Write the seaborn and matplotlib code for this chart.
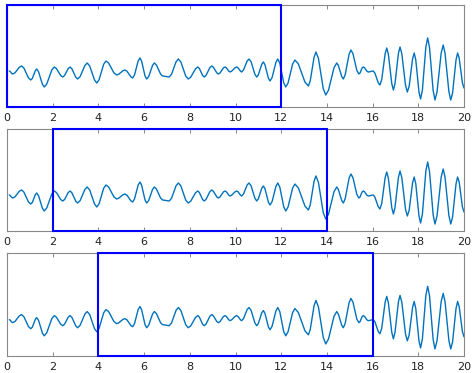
import numpy as np
import pandas as pd
import matplotlib
matplotlib.use("Agg")
import matplotlib.pyplot as plt
import seaborn as sns
from matplotlib.patches import Rectangle

# signal samples (peaks, troughs and shoulders)
t = [0.10, 0.14, 0.21, 0.25, 0.35, 0.54, 0.64, 0.74, 0.94, 1.04, 1.11, 1.24, 1.30, 1.38, 1.55,
     1.63, 1.74, 1.96, 2.07, 2.16, 2.35, 2.44, 2.52, 2.68, 2.76, 2.84, 3.01, 3.09, 3.20, 3.41,
     3.51, 3.62, 3.83, 3.93, 4.03, 4.23, 4.33, 4.45, 4.68, 4.80, 4.89, 5.07, 5.16, 5.25, 5.42,
     5.50, 5.58, 5.74, 5.82, 5.89, 6.04, 6.11, 6.20, 6.37, 6.45, 6.54, 6.72, 6.81, 6.88, 7.03,
     7.10, 7.20, 7.40, 7.50, 7.61, 7.82, 7.93, 8.04, 8.25, 8.35, 8.42, 8.56, 8.63, 8.71, 8.88,
     8.96, 9.03, 9.18, 9.25, 9.32, 9.47, 9.54, 9.60, 9.71, 9.76, 9.83, 9.98, 10.05, 10.11, 10.22,
     10.27, 10.35, 10.51, 10.59, 10.68, 10.85, 10.93, 11.00, 11.15, 11.22, 11.29, 11.44,
     11.51, 11.60, 11.77, 11.85, 11.94, 12.11, 12.20, 12.30, 12.50, 12.60, 12.75, 13.04,
     13.19, 13.27, 13.44, 13.52, 13.63, 13.84, 13.95, 14.07, 14.31, 14.43, 14.50, 14.65,
     14.72, 14.80, 14.97, 15.05, 15.14, 15.31, 15.40, 15.45, 15.54, 15.59, 15.65, 15.75,
     15.81, 15.87, 15.97, 16.03, 16.10, 16.25, 16.32, 16.40, 16.55, 16.62, 16.69, 16.84,
     16.91, 16.98, 17.13, 17.20, 17.28, 17.44, 17.52, 17.60, 17.75, 17.82, 17.89, 18.03,
     18.10, 18.18, 18.33, 18.41, 18.49, 18.65, 18.73, 18.82, 19.00, 19.09, 19.17, 19.34,
     19.42, 19.50, 19.65, 19.72, 19.79, 19.93, 20.0]
y = [0, -0.5, -2.5, -3, -1.8, 3.8, 5, 2.9, -6.9, -9, -7.4, 0.4, 2, -0.7, -13.3,
     -16, -13, 1, 4, 2.5, -4.5, -6, -4.5, 2.5, 4, 2.2, -6.2, -8, -5.6, 5.6,
     8, 5, -9, -12, -8.7, 6.7, 10, 7.9, -1.9, -4, -3.2, 0.2, 1, -0.2, -5.8,
     -7, -4, 10, 13, 9.9, -4.9, -8, -5.6, 5.6, 8, 6, -3, -5, -5.2, -5.8,
     -6, -3.3, 9.3, 12, 9, -5, -8, -6.2, 2.2, 4, 2.5, -4.5, -6, -4.4, 3.4,
     5, 3.8, -1.8, -3, -2, 3, 4, 3.2, -0.2, -1, -0.2, 3.2, 4, 3.2, -0.2,
     -1, 1, 10, 12, 9.3, -3.3, -6, -3.8, 6.8, 9, 6.2, -7.2,
     -10, -6.7, 8.7, 12, 7.8, -11.8, -16, -12, 7, 11, 7.1, -11.1,
     -15, -9.9, 13.9, 19, 12.6, -17.6, -24, -19.2, 3.2, 8, 5.6, -5.6,
     -8, -3.7, 16.7, 21, 17.4, 0.6, -3, -2, 3, 4, 3.2, -0.2,
     -1, -0.8, -0.2, 0, -2.1, -11.9, -14, -8.5, 17.5, 23, 16.7, -12.7,
     -19, -12.6, 17.6, 24, 17.2, -14.2, -21, -15.2, 12.2, 18, 11.1, -21.1,
     -28, -18.9, 23.9, 33, 23.7, -19.7, -29, -20.8, 17.8, 26, 17.8, -20.8,
     -29, -22, 11, 18, 12.8, -11.8, -17]
window_start = [0, 2, 4]
window_length = 12
xticks = [0, 2, 4, 6, 8, 10, 12, 14, 16, 18, 20]

df = pd.DataFrame({"t": t, "y": y})

sns.set_style("white")
fig = plt.figure(figsize=(4.74, 3.73), dpi=100)
W, H = 474, 373
panels = [(5, 107), (129, 231), (253, 356)]
for (top, bot), ws in zip(panels, window_start):
    ax = fig.add_axes([7 / W, 1 - bot / H, (464 - 7) / W, (bot - top) / H])
    sns.lineplot(data=df, x="t", y="y", ax=ax, color="#0072BD", linewidth=1.0)
    ax.set_xlim(0, 20)
    ax.set_ylim(-36, 66)
    ax.set_xticks(xticks)
    ax.set_xticklabels([str(v) for v in xticks])
    ax.set_yticks([])
    ax.set_xlabel("")
    ax.set_ylabel("")
    ax.tick_params(axis="x", direction="in", length=3, width=0.7, top=True, bottom=True,
                   labelsize=8, colors="#888888", labelcolor="#222222", pad=4)
    for s in ax.spines.values():
        s.set_color("#888888")
        s.set_linewidth(0.8)
    rect = Rectangle((ws, -36), window_length, 102, fill=False, edgecolor="#0000FF",
                     linewidth=1.5, clip_on=False, zorder=5)
    ax.add_patch(rect)

fig.savefig("out.png", dpi=100)
